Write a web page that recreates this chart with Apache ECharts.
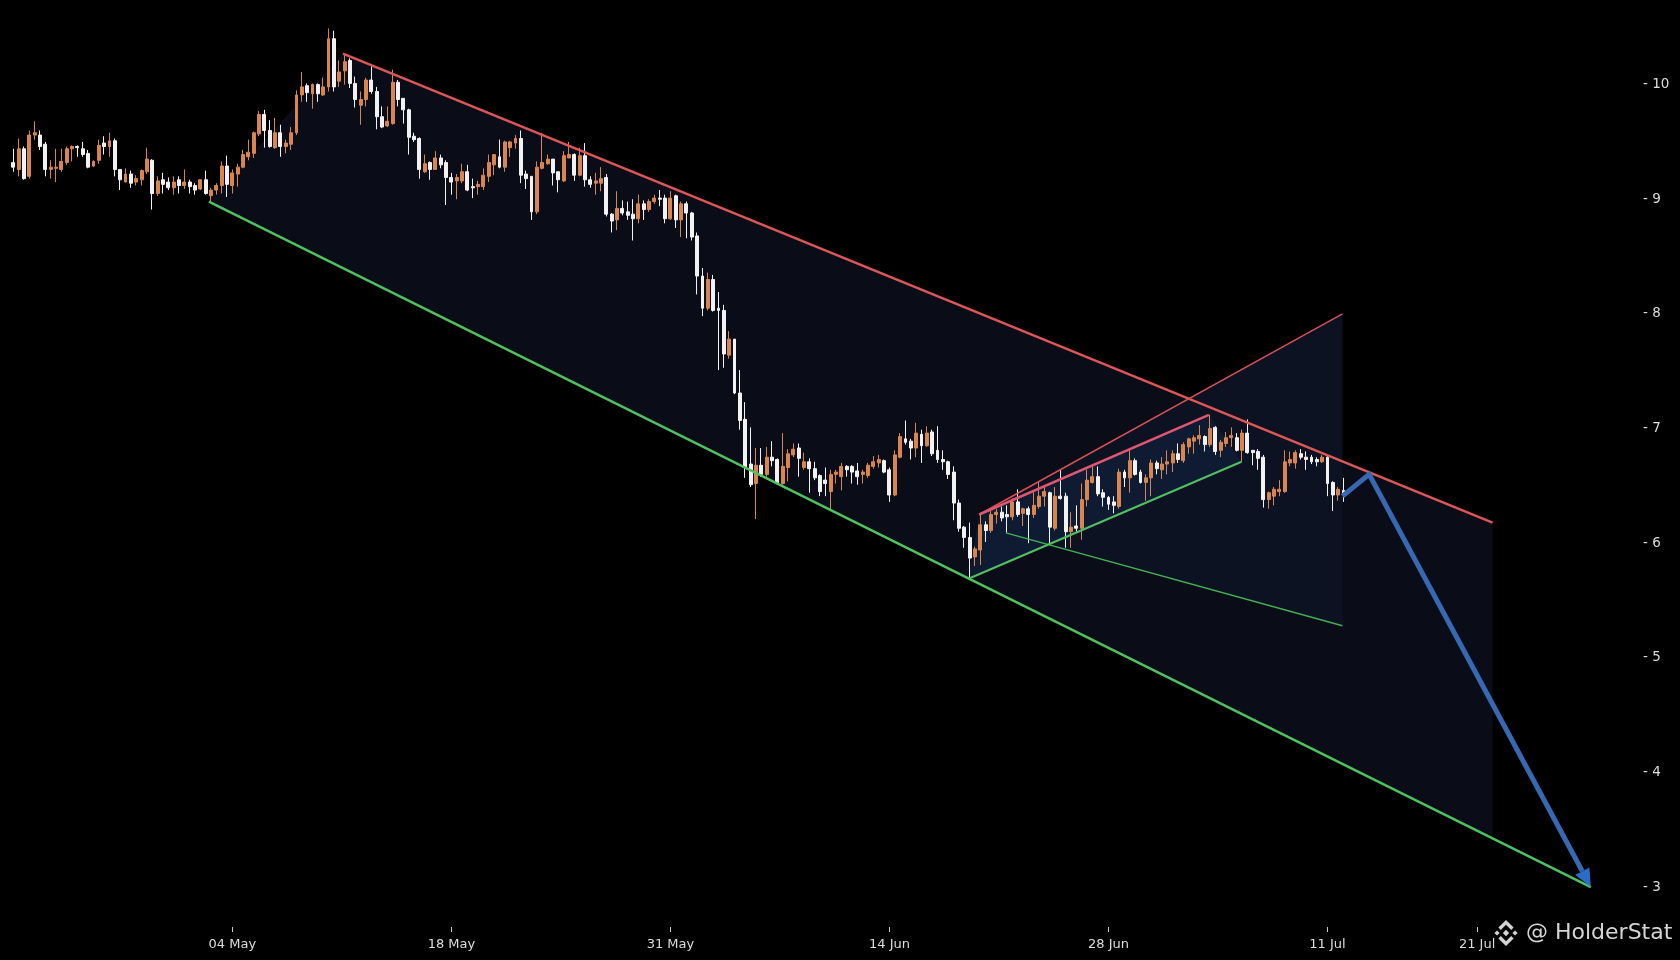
<!DOCTYPE html>
<html>
<head>
<meta charset="utf-8">
<title>HolderStat channel</title>
<script src="https://cdn.jsdelivr.net/npm/echarts@6/dist/echarts.min.js"></script>
<style>
  html, body { margin: 0; padding: 0; background: #000; }
  #chart { width: 1680px; height: 960px; }
</style>
</head>
<body>
<div id="chart"></div>
<script>
// 8h candles on a category axis, the first candle sits in slot 2
var firstSlot = 2;
var slotCount = 307;

var opens = [
  9.32, 9.26, 9.44, 9.20, 9.56, 9.56, 9.48, 9.26, 9.27, 9.26,
  9.32, 9.44, 9.46, 9.44, 9.40, 9.29, 9.34, 9.49, 9.46, 9.51,
  9.26, 9.15, 9.22, 9.15, 9.17, 9.24, 9.34, 9.05, 9.17, 9.15,
  9.10, 9.17, 9.12, 9.15, 9.12, 9.09, 9.17, 9.03, 9.08, 9.12,
  9.29, 9.12, 9.22, 9.28, 9.37, 9.40, 9.57, 9.74, 9.60, 9.45,
  9.58, 9.46, 9.48, 9.58, 9.91, 9.99, 9.92, 10.00, 9.91, 9.98,
  10.40, 10.03, 10.12, 10.21, 10.01, 9.82, 9.87, 10.04, 9.94, 9.72,
  9.64, 9.66, 10.02, 9.88, 9.78, 9.55, 9.53, 9.24, 9.32, 9.26,
  9.36, 9.32, 9.19, 9.16, 9.16, 9.24, 9.11, 9.11, 9.11, 9.20,
  9.30, 9.37, 9.28, 9.45, 9.49, 9.53, 9.22, 9.20, 8.89, 9.27,
  9.31, 9.35, 9.24, 9.16, 9.36, 9.39, 9.21, 9.38, 9.17, 9.14,
  9.14, 9.19, 8.87, 8.82, 8.92, 8.89, 8.87, 8.83, 8.96, 8.91,
  8.98, 9.01, 9.01, 8.83, 9.03, 8.82, 8.96, 8.88, 8.68, 8.33,
  8.05, 8.30, 8.05, 8.03, 7.64, 7.78, 7.31, 7.08, 6.69, 6.52,
  6.68, 6.60, 6.75, 6.73, 6.52, 6.66, 6.77, 6.83, 6.66, 6.71,
  6.65, 6.59, 6.55, 6.45, 6.60, 6.58, 6.67, 6.67, 6.63, 6.60,
  6.59, 6.67, 6.70, 6.72, 6.64, 6.42, 6.75, 6.91, 6.89, 6.83,
  6.95, 6.85, 6.97, 6.81, 6.73, 6.71, 6.62, 6.35, 6.14, 6.05,
  5.88, 5.94, 6.16, 6.11, 6.25, 6.27, 6.25, 6.23, 6.36, 6.26,
  6.30, 6.25, 6.32, 6.41, 6.44, 6.13, 6.41, 6.41, 6.10, 6.15,
  6.13, 6.38, 6.53, 6.58, 6.44, 6.40, 6.36, 6.32, 6.62, 6.57,
  6.72, 6.62, 6.53, 6.57, 6.70, 6.64, 6.69, 6.70, 6.78, 6.72,
  6.84, 6.89, 6.91, 6.93, 6.86, 7.01, 6.81, 6.87, 6.92, 6.92,
  6.81, 6.96, 6.81, 6.80, 6.75, 6.38, 6.41, 6.45, 6.45, 6.70,
  6.70, 6.78, 6.75, 6.75, 6.73, 6.71, 6.75, 6.53, 6.42, 6.46
];
var closes = [
  9.28, 9.44, 9.18, 9.56, 9.58, 9.46, 9.26, 9.28, 9.28, 9.33,
  9.44, 9.46, 9.45, 9.39, 9.28, 9.33, 9.47, 9.46, 9.51, 9.26,
  9.17, 9.22, 9.14, 9.18, 9.25, 9.35, 9.05, 9.16, 9.13, 9.10,
  9.15, 9.12, 9.15, 9.11, 9.08, 9.17, 9.05, 9.08, 9.12, 9.29,
  9.13, 9.23, 9.28, 9.39, 9.41, 9.58, 9.74, 9.60, 9.46, 9.58,
  9.46, 9.49, 9.58, 9.91, 9.98, 9.93, 10.00, 9.92, 9.98, 10.40,
  9.98, 10.11, 10.20, 10.01, 9.87, 9.87, 10.04, 9.94, 9.72, 9.63,
  9.68, 10.02, 9.87, 9.78, 9.54, 9.52, 9.26, 9.31, 9.26, 9.36,
  9.30, 9.19, 9.15, 9.19, 9.24, 9.08, 9.10, 9.13, 9.21, 9.32,
  9.39, 9.28, 9.50, 9.50, 9.53, 9.21, 9.18, 8.89, 9.28, 9.32,
  9.35, 9.23, 9.17, 9.38, 9.39, 9.21, 9.38, 9.17, 9.13, 9.16,
  9.18, 8.87, 8.81, 8.92, 8.88, 8.86, 8.83, 8.96, 8.91, 8.98,
  9.01, 9.00, 8.83, 9.01, 8.82, 8.96, 8.88, 8.67, 8.33, 8.05,
  8.30, 8.03, 8.03, 7.65, 7.78, 7.31, 7.07, 6.66, 6.51, 6.68,
  6.60, 6.75, 6.72, 6.52, 6.67, 6.78, 6.82, 6.74, 6.71, 6.65,
  6.57, 6.45, 6.52, 6.60, 6.62, 6.67, 6.64, 6.62, 6.58, 6.62,
  6.68, 6.71, 6.73, 6.62, 6.42, 6.77, 6.93, 6.88, 6.83, 6.96,
  6.85, 6.96, 6.78, 6.73, 6.71, 6.60, 6.35, 6.13, 6.05, 5.87,
  5.95, 6.16, 6.11, 6.25, 6.27, 6.22, 6.23, 6.36, 6.25, 6.30,
  6.25, 6.33, 6.41, 6.45, 6.14, 6.41, 6.39, 6.10, 6.14, 6.13,
  6.38, 6.55, 6.58, 6.43, 6.40, 6.34, 6.33, 6.62, 6.57, 6.72,
  6.60, 6.53, 6.57, 6.70, 6.65, 6.69, 6.71, 6.78, 6.73, 6.86,
  6.91, 6.92, 6.94, 6.86, 7.00, 6.80, 6.88, 6.92, 6.94, 6.81,
  6.96, 6.79, 6.79, 6.74, 6.38, 6.44, 6.47, 6.47, 6.71, 6.73,
  6.79, 6.75, 6.73, 6.71, 6.71, 6.75, 6.52, 6.42, 6.47, 6.43
];
var lows = [
  9.24, 9.20, 9.17, 9.18, 9.52, 9.43, 9.20, 9.18, 9.15, 9.24,
  9.30, 9.33, 9.37, 9.37, 9.27, 9.28, 9.31, 9.39, 9.37, 9.20,
  9.08, 9.15, 9.10, 9.12, 9.12, 9.22, 8.91, 9.03, 9.05, 9.08,
  9.04, 9.05, 9.09, 9.05, 9.04, 9.08, 9.04, 8.98, 9.04, 9.05,
  9.02, 9.05, 9.11, 9.27, 9.34, 9.36, 9.55, 9.45, 9.45, 9.44,
  9.37, 9.40, 9.43, 9.56, 9.85, 9.85, 9.79, 9.85, 9.90, 9.94,
  9.94, 9.98, 10.00, 9.97, 9.80, 9.65, 9.81, 9.92, 9.61, 9.62,
  9.63, 9.65, 9.81, 9.66, 9.39, 9.50, 9.18, 9.23, 9.17, 9.26,
  9.27, 8.95, 9.04, 9.00, 9.14, 9.07, 9.01, 9.04, 9.08, 9.15,
  9.21, 9.27, 9.24, 9.37, 9.44, 9.14, 9.09, 8.82, 8.87, 9.26,
  9.30, 9.12, 9.06, 9.15, 9.36, 9.16, 9.20, 9.11, 9.10, 9.04,
  9.07, 8.85, 8.71, 8.73, 8.86, 8.82, 8.64, 8.79, 8.82, 8.89,
  8.96, 8.94, 8.79, 8.82, 8.75, 8.67, 8.66, 8.64, 8.17, 7.98,
  8.03, 8.02, 7.51, 7.53, 7.61, 7.30, 6.99, 6.57, 6.49, 6.21,
  6.58, 6.58, 6.67, 6.52, 6.51, 6.54, 6.75, 6.58, 6.64, 6.44,
  6.55, 6.41, 6.41, 6.29, 6.52, 6.46, 6.58, 6.52, 6.51, 6.52,
  6.57, 6.65, 6.66, 6.61, 6.36, 6.41, 6.74, 6.86, 6.73, 6.75,
  6.70, 6.84, 6.76, 6.70, 6.64, 6.56, 6.20, 6.10, 5.96, 5.69,
  5.80, 5.81, 6.01, 6.09, 6.17, 6.19, 6.09, 6.20, 6.23, 6.15,
  6.00, 6.22, 6.30, 6.32, 6.00, 6.11, 6.38, 5.96, 5.96, 6.10,
  6.03, 6.32, 6.52, 6.41, 6.32, 6.29, 6.26, 6.30, 6.49, 6.44,
  6.59, 6.52, 6.37, 6.41, 6.60, 6.56, 6.60, 6.62, 6.70, 6.70,
  6.78, 6.78, 6.86, 6.80, 6.84, 6.77, 6.75, 6.84, 6.84, 6.80,
  6.71, 6.78, 6.68, 6.64, 6.31, 6.30, 6.33, 6.41, 6.44, 6.67,
  6.65, 6.73, 6.64, 6.69, 6.67, 6.70, 6.41, 6.28, 6.37, 6.36
];
var highs = [
  9.44, 9.53, 9.46, 9.60, 9.68, 9.60, 9.50, 9.34, 9.44, 9.44,
  9.46, 9.47, 9.47, 9.50, 9.43, 9.34, 9.52, 9.55, 9.58, 9.53,
  9.26, 9.27, 9.25, 9.21, 9.26, 9.45, 9.35, 9.20, 9.23, 9.19,
  9.20, 9.20, 9.26, 9.17, 9.14, 9.17, 9.25, 9.10, 9.14, 9.33,
  9.38, 9.26, 9.31, 9.43, 9.52, 9.59, 9.77, 9.78, 9.69, 9.71,
  9.65, 9.52, 9.63, 9.95, 10.11, 10.01, 10.01, 10.01, 10.06, 10.49,
  10.47, 10.21, 10.26, 10.23, 10.07, 9.94, 10.06, 10.16, 9.98, 9.81,
  9.81, 10.13, 10.04, 9.88, 9.79, 9.58, 9.54, 9.39, 9.33, 9.42,
  9.39, 9.34, 9.23, 9.22, 9.31, 9.30, 9.18, 9.16, 9.27, 9.39,
  9.39, 9.52, 9.51, 9.51, 9.56, 9.60, 9.25, 9.20, 9.33, 9.58,
  9.39, 9.35, 9.24, 9.42, 9.50, 9.40, 9.45, 9.49, 9.20, 9.23,
  9.28, 9.22, 8.88, 9.07, 8.99, 8.98, 9.00, 9.04, 8.99, 9.00,
  9.04, 9.08, 9.04, 9.07, 9.04, 8.98, 8.98, 8.89, 8.71, 8.40,
  8.36, 8.34, 8.19, 8.08, 7.85, 7.78, 7.51, 7.23, 7.01, 6.83,
  6.83, 6.84, 6.89, 6.74, 6.96, 6.82, 6.87, 6.87, 6.79, 6.74,
  6.71, 6.60, 6.66, 6.64, 6.64, 6.70, 6.68, 6.68, 6.70, 6.64,
  6.70, 6.76, 6.77, 6.73, 6.66, 6.81, 6.96, 7.07, 6.91, 7.05,
  6.99, 7.02, 6.99, 7.02, 6.81, 6.72, 6.67, 6.38, 6.15, 6.18,
  5.97, 6.25, 6.19, 6.29, 6.30, 6.32, 6.33, 6.39, 6.47, 6.31,
  6.32, 6.45, 6.54, 6.49, 6.45, 6.49, 6.64, 6.44, 6.27, 6.33,
  6.52, 6.64, 6.67, 6.67, 6.47, 6.41, 6.41, 6.65, 6.64, 6.81,
  6.74, 6.64, 6.60, 6.73, 6.72, 6.75, 6.81, 6.81, 6.87, 6.88,
  6.92, 6.94, 7.03, 6.94, 7.12, 7.02, 6.90, 6.97, 7.01, 6.96,
  6.99, 7.08, 6.81, 6.82, 6.77, 6.45, 6.49, 6.55, 6.81, 6.80,
  6.81, 6.82, 6.80, 6.77, 6.75, 6.77, 6.76, 6.54, 6.49, 6.57
];

// date ticks on the x axis
var tickSlots = [43, 84, 125, 166, 207, 248, 276];
var tickTexts = ['04 May', '18 May', '31 May', '14 Jun', '28 Jun', '11 Jul', '21 Jul'];

// price axis range
var priceMin = 2.652;
var priceMax = 10.738;

// hand drawn lines, as [slot, price]
var channelTop = [[63.7, 10.27], [278.9, 6.18]];
var channelBottom = [[38.6, 8.98], [297.3, 3.0]];
var channelArea = [[38.6, 8.98], [63.7, 10.27], [278.9, 6.18], [278.9, 3.43]];
var wedgeTop = [[182.8, 6.25], [225.8, 7.12]];
var wedgeBottom = [[180.8, 5.69], [231.9, 6.71]];
var wedgeArea = [[180.8, 5.69], [182.8, 6.25], [225.8, 7.12], [231.9, 6.71]];
var rayTop = [[182.8, 6.25], [250.8, 8.0]];
var rayBottom = [[187.8, 6.09], [250.8, 5.28]];
var rayArea = [[182.8, 6.25], [250.8, 8.0], [250.8, 5.28], [187.8, 6.09]];
var arrowPath = [[250.8, 6.41], [255.8, 6.60], [297.3, 3.0]];

var slots = [];
for (var s = 0; s < slotCount; s++) slots.push(String(s));

var candles = opens.map(function (o, i) {
  return [i + firstSlot, o, closes[i], lows[i], highs[i]];
});

var chart = echarts.init(document.getElementById('chart'));

function areaSeries(points, fill, z) {
  return {
    type: 'custom',
    xAxisIndex: 1,
    yAxisIndex: 0,
    silent: true,
    z: z,
    data: [points[0]],
    renderItem: function (params, api) {
      return {
        type: 'polygon',
        shape: { points: points.map(function (p) { return api.coord(p); }) },
        style: { fill: fill }
      };
    }
  };
}

function lineSeries(points, color, width, z) {
  return {
    type: 'line',
    xAxisIndex: 1,
    yAxisIndex: 0,
    data: points,
    symbol: 'none',
    silent: true,
    z: z,
    lineStyle: { color: color, width: width }
  };
}

// watermark logo pieces (binance style), offsets around a centre point
var logoX = 1506, logoY = 933;
function shift(pts) {
  return pts.map(function (p) { return [logoX + p[0], logoY + p[1]]; });
}
var logoParts = [
  [[0, -3.2], [3.2, 0], [0, 3.2], [-3.2, 0]],
  [[-9, -2.6], [-6.4, 0], [-9, 2.6], [-11.6, 0]],
  [[9, -2.6], [11.6, 0], [9, 2.6], [6.4, 0]],
  [[0, -13], [7.6, -5.4], [5.2, -3], [0, -8.2], [-5.2, -3], [-7.6, -5.4]],
  [[0, 13], [7.6, 5.4], [5.2, 3], [0, 8.2], [-5.2, 3], [-7.6, 5.4]]
];

var option = {
  backgroundColor: '#000',
  animation: false,
  grid: {
    left: 0,
    right: 40,
    top: 0,
    bottom: 33,
    outerBoundsMode: 'none'
  },
  xAxis: [{
    type: 'category',
    data: slots,
    boundaryGap: true,
    axisLine: { show: false },
    splitLine: { show: false },
    axisTick: {
      show: true,
      alignWithLabel: true,
      length: 5,
      interval: function (index) { return tickSlots.indexOf(index) >= 0; },
      lineStyle: { color: '#c8c8c8', width: 1 }
    },
    axisLabel: {
      interval: function (index) { return tickSlots.indexOf(index) >= 0; },
      formatter: function (value, index) {
        var k = tickSlots.indexOf(index);
        return k >= 0 ? tickTexts[k] : '';
      },
      margin: 11,
      color: '#dcdcdc',
      fontSize: 13,
      fontFamily: 'DejaVu Sans'
    }
  }, {
    type: 'value',
    min: -0.5,
    max: slotCount - 0.5,
    show: false
  }],
  yAxis: {
    type: 'value',
    position: 'right',
    min: priceMin,
    max: priceMax,
    splitNumber: 8,
    minInterval: 1,
    maxInterval: 1,
    axisLine: { show: false },
    axisTick: { show: false },
    splitLine: { show: false },
    axisLabel: {
      margin: 3,
      color: '#dcdcdc',
      fontSize: 13.5,
      fontFamily: 'DejaVu Sans',
      formatter: function (v) {
        return Math.abs(v - Math.round(v)) < 1e-6 ? '- ' + Math.round(v) : '';
      }
    }
  },
  series: [
    areaSeries(channelArea, '#0a0d17', 1),
    areaSeries(rayArea, '#0c1221', 2),
    areaSeries(wedgeArea, '#0f1a33', 3),
    {
      type: 'candlestick',
      xAxisIndex: 0,
      yAxisIndex: 0,
      data: candles,
      encode: { x: 0, y: [1, 2, 3, 4] },
      barWidth: '64%',
      z: 5,
      itemStyle: {
        color: '#d8854f',
        color0: '#f2f2f2',
        borderColor: '#d8854f',
        borderColor0: '#f2f2f2',
        borderWidth: 1
      }
    },
    lineSeries(channelTop, '#de5656', 2.5, 6),
    lineSeries(channelBottom, '#4fc25f', 2.5, 6),
    lineSeries(rayTop, '#d65256', 1.5, 6),
    lineSeries(rayBottom, '#45b052', 1.5, 6),
    lineSeries(wedgeTop, '#e0566e', 2.5, 6),
    lineSeries(wedgeBottom, '#4fc25f', 2, 6),
    {
      type: 'custom',
      xAxisIndex: 1,
      yAxisIndex: 0,
      silent: true,
      z: 7,
      data: [arrowPath[0]],
      renderItem: function (params, api) {
        var pts = arrowPath.map(function (p) { return api.coord(p); });
        var end = pts[pts.length - 1];
        var prev = pts[pts.length - 2];
        var dx = end[0] - prev[0], dy = end[1] - prev[1];
        var len = Math.sqrt(dx * dx + dy * dy);
        var ux = dx / len, uy = dy / len;
        var headLen = 18, headHalf = 8;
        var base = [end[0] - ux * headLen, end[1] - uy * headLen];
        var shaft = pts.slice(0, -1).concat([base]);
        return {
          type: 'group',
          children: [{
            type: 'polyline',
            shape: { points: shaft },
            style: { stroke: '#3768b2', lineWidth: 5, lineJoin: 'miter', fill: null }
          }, {
            type: 'polygon',
            shape: {
              points: [
                end,
                [base[0] - uy * headHalf, base[1] + ux * headHalf],
                [base[0] + uy * headHalf, base[1] - ux * headHalf]
              ]
            },
            style: { fill: '#2b6cc8' }
          }]
        };
      }
    }
  ],
  graphic: [{
    type: 'group',
    silent: true,
    children: logoParts.map(function (part) {
      return { type: 'polygon', shape: { points: shift(part) }, style: { fill: '#d4d4d4' } };
    })
  }, {
    type: 'text',
    silent: true,
    x: 1526,
    y: 933,
    style: {
      text: '@ HolderStat',
      font: '22px "DejaVu Sans"',
      fill: '#d6d6d6',
      verticalAlign: 'middle'
    }
  }]
};

chart.setOption(option);
</script>
</body>
</html>
